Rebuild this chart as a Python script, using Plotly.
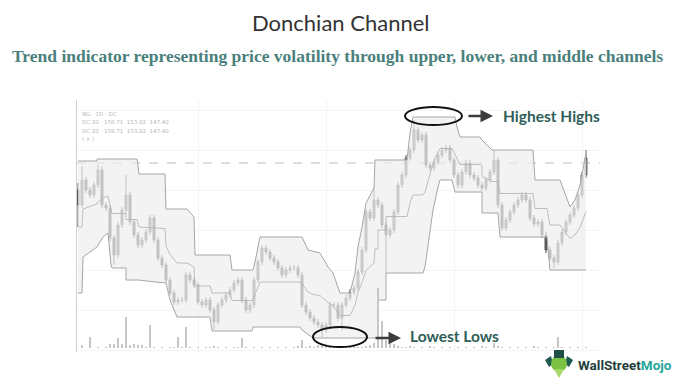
import plotly.graph_objects as go

# The page body has an 8px margin, so the figure is drawn 8px in from the
# window's top-left corner; sizes and pixel helpers account for it.
OFF = 8
W, H = 682 - OFF, 386 - OFF

# ---------------- data ----------------
bars = list(range(128))
close = [136.25, 142.5, 140, 138.75, 141.25, 145, 136.25, 135.5, 128, 123.75,
         131.25, 135, 138.75, 132, 128.75, 126.25, 127.5, 129.5, 133, 127.5,
         123, 121.25, 117.5, 114.25, 112, 112.5, 112.5, 118.75, 117.5, 116.25,
         112, 111.25, 112.5, 110, 107, 111.25, 112.5, 113.75, 115, 116.75,
         117.5, 112.5, 110, 111.25, 117.5, 122, 125.5, 124.5, 123, 122,
         120.5, 118.75, 120, 120.5, 120.5, 118.75, 111.25, 109.5, 108, 107,
         106.25, 105, 106.25, 111.25, 111.25, 108, 111.25, 113, 114.5, 115.5,
         119.5, 125, 134.5, 133, 137.5, 136.25, 131.25, 128.75, 130, 134.5,
         141.25, 143.75, 148, 150, 155, 152.5, 153.75, 146.25, 145.5, 147,
         148.75, 150, 150.5, 147.5, 143.75, 141.25, 144.5, 146.75, 143.75, 143,
         141.25, 140.5, 142.5, 144.5, 147.5, 136.25, 130.5, 132.5, 134.5, 136.25,
         137.5, 138.75, 137.5, 133, 131.5, 132, 128.75, 125, 123, 122,
         126.75, 129.5, 132, 133.75, 135.5, 138.75, 143.75, 148]
first_open = 140.0
high_override = {0: 141.75, 1: 146.0, 5: 146.25, 12: 143.75, 74: 140.5,
                 84: 157.5, 104: 150.0, 127: 150.0}
low_override = {0: 130.75, 9: 121.25, 34: 105.0, 61: 103.25, 66: 105.0,
                77: 119.25, 119: 120.5}
volume = [0, 3, 0, 11, 0, 1, 0, 1, 4, 4, 10, 4, 31, 3, 4, 3, 3, 1, 23, 1,
          0, 1, 0, 1, 1, 11, 1, 21, 1, 0, 1, 0, 1, 1, 2, 1, 0, 1, 0, 1,
          1, 10, 1, 0, 1, 0, 1, 0, 1, 0, 1, 0, 1, 0, 1, 2, 8, 1, 2, 1,
          3, 4, 2, 1, 2, 1, 2, 1, 1, 2, 1, 1, 2, 3, 5, 60, 27, 8, 6, 4,
          2, 1, 1, 2, 1, 0, 1, 0, 2, 1, 0, 1, 0, 1, 0, 1, 0, 1, 0, 1,
          0, 2, 1, 0, 5, 2, 1, 0, 1, 0, 1, 0, 1, 0, 2, 1, 0, 1, 0, 1,
          11, 1, 0, 1, 0, 1, 0, 1]

chan_x = [0, 1, 1.25, 3, 4.75, 4.75, 6.25, 7.5, 8.25, 8.5, 12, 12, 14.75, 15.25,
          19.25, 21.75, 22, 23, 24.75, 27.25, 29, 29.25, 33, 33.5, 38, 38.5,
          43.5, 43.75, 44.25, 45.5, 55.5, 56, 57.5, 58.75, 60.5, 62.5, 63.75,
          65.5, 68, 69.25, 70, 71, 72, 74, 74.25, 75, 75, 77, 77, 82.25, 83,
          83.75, 86.25, 86.75, 88, 88.75, 90, 90.5, 93.5, 94.25, 94.75, 95.5,
          100.5, 101, 101, 103.5, 105, 105.5, 113.75, 114.25, 117.25, 118,
          120.5, 123, 124.25, 125.5, 127]
chan_upper = [147.25, 147.25, 147.25, 147.25, 147.25, 147.75, 147.75, 147.75, 147.75,
              147.75, 147.75, 147.75, 147.75, 144, 144, 144, 135.25, 135.25, 135.25,
              135.25, 133.25, 123.75, 123.75, 123.75, 123.75, 120, 120, 120, 122,
              128.25, 128.25, 128.25, 125, 124.75, 124.25, 120.75, 119.25, 114.25,
              114.25, 119.25, 125.75, 130.75, 136.75, 140.5, 147.5, 147.5, 147.5,
              147.5, 147.5, 147.5, 154.25, 158.25, 158.25, 158.25, 158.25, 158.25,
              158.25, 158.25, 158.25, 158.25, 155.75, 153.25, 153.25, 152.5, 152.5,
              150, 150, 150, 150, 142.5, 142.5, 142.5, 142.5, 135.75, 137.5,
              141.25, 149.25]
chan_lower = [114.25, 114.25, 123.25, 124.5, 125.75, 125.75, 128.25, 129.25, 121.25,
              120.5, 120.5, 117.5, 117.5, 117.5, 117, 116.75, 116.75, 112.5, 108.25,
              108.25, 108.25, 108.25, 108.25, 104.75, 104.75, 104.75, 104.75, 105.75,
              105.75, 105.75, 105.75, 105, 104, 103, 103, 103, 103, 103, 103, 103,
              103, 103, 103, 103, 103, 103, 112.5, 112.5, 119.25, 119.25, 119.25,
              119.25, 119.25, 120.75, 129.25, 135, 140.75, 142.5, 142.5, 139.5,
              139.5, 139.5, 139.5, 139.5, 134.25, 134.25, 134.25, 128.25, 128.25,
              128.25, 128.25, 120, 120, 120, 120, 120, 120]
last_price = 146.75

# ---------------- derived candle fields ----------------
opens = [first_open] + close[:-1]
wick = 0.75
highs = [high_override.get(i, max(o, c) + wick) for i, (o, c) in enumerate(zip(opens, close))]
lows = [low_override.get(i, min(o, c) - wick) for i, (o, c) in enumerate(zip(opens, close))]
chan_mid = [(u + l) / 2 for u, l in zip(chan_upper, chan_lower)]

# window-pixel helpers for layout placement
def px(x):
    return (x - OFF) / W

def py(y):
    return 1 - (y - OFF) / H

X0, X1 = 77, 600
Y0, Y1 = 100, 352
x_range = [(X0 - 78) / 4, (X1 - 78) / 4]
y_range = [187.5 - Y1 / 4, 187.5 - Y0 / 4]

fig = go.Figure()

fig.add_trace(go.Bar(x=bars, y=volume, yaxis="y2", marker=dict(color="#c6c6c6", line=dict(width=0)),
                     width=0.4, hoverinfo="skip", showlegend=False))

fig.add_trace(go.Scatter(x=chan_x, y=chan_upper, mode="lines",
                         line=dict(color="#a6a6a6", width=1), hoverinfo="skip", showlegend=False))
fig.add_trace(go.Scatter(x=chan_x, y=chan_lower, mode="lines", fill="tonexty",
                         fillcolor="rgba(238,238,238,0.7)",
                         line=dict(color="#a6a6a6", width=1), hoverinfo="skip", showlegend=False))
fig.add_trace(go.Scatter(x=chan_x, y=chan_mid, mode="lines",
                         line=dict(color="#b0b0b0", width=0.8), hoverinfo="skip", showlegend=False))

fig.add_trace(go.Candlestick(
    x=bars, open=opens, high=highs, low=lows, close=close,
    increasing=dict(line=dict(color="#666666", width=1), fillcolor="#909090"),
    decreasing=dict(line=dict(color="#555555", width=1), fillcolor="#5e5e5e"),
    whiskerwidth=0, hoverinfo="skip", showlegend=False))

shapes = []
# last price dashed line
shapes.append(dict(type="line", xref="x", yref="y", x0=x_range[0], x1=x_range[1],
                   y0=last_price, y1=last_price, line=dict(color="#bdbdbd", width=1, dash="dash"),
                   layer="below"))
# ellipses
shapes.append(dict(type="circle", xref="paper", yref="paper",
                   x0=px(405), x1=px(462), y0=py(125), y1=py(107),
                   line=dict(color="#111111", width=2)))
shapes.append(dict(type="circle", xref="paper", yref="paper",
                   x0=px(313), x1=px(367), y0=py(347), y1=py(327),
                   line=dict(color="#111111", width=2)))
# logo icon (approximate)
shapes.append(dict(type="path", xref="paper", yref="paper",
                   path=f"M {px(545)},{py(360)} L {px(551)},{py(356)} L {px(553)},{py(364)} L {px(549)},{py(367)} Z",
                   fillcolor="#1f5b52", line=dict(width=0)))
shapes.append(dict(type="path", xref="paper", yref="paper",
                   path=f"M {px(573)},{py(360)} L {px(567)},{py(356)} L {px(565)},{py(364)} L {px(569)},{py(367)} Z",
                   fillcolor="#1f5b52", line=dict(width=0)))
shapes.append(dict(type="circle", xref="paper", yref="paper",
                   x0=px(551), x1=px(567), y0=py(372), y1=py(355),
                   fillcolor="#7cc242", line=dict(width=0)))
shapes.append(dict(type="path", xref="paper", yref="paper",
                   path=f"M {px(554)},{py(369)} L {px(564)},{py(369)} L {px(559)},{py(378)} Z",
                   fillcolor="#a6d86a", line=dict(width=0)))
shapes.append(dict(type="rect", xref="paper", yref="paper",
                   x0=px(554), x1=px(564), y0=py(358), y1=py(350),
                   fillcolor="#1f4d47", line=dict(width=0)))

annotations = []
annotations.append(dict(text="Donchian Channel", x=px(341), y=py(23), xref="paper", yref="paper",
                        showarrow=False, xanchor="center", yanchor="middle",
                        font=dict(family="Lato", size=22, color="#333333")))
annotations.append(dict(text="<b>Trend indicator representing price volatility through upper, lower, and middle channels</b>",
                        x=px(337), y=py(56), xref="paper", yref="paper", showarrow=False,
                        xanchor="center", yanchor="middle",
                        font=dict(family="Liberation Serif", size=17.5, color="#4a807c")))
annotations.append(dict(text="<b>Highest Highs</b>", x=px(501), y=py(116), xref="paper", yref="paper",
                        showarrow=False, xanchor="left", yanchor="middle",
                        font=dict(family="Lato", size=15.5, color="#2f5e59")))
annotations.append(dict(text="<b>Lowest Lows</b>", x=px(408), y=py(336), xref="paper", yref="paper",
                        showarrow=False, xanchor="left", yanchor="middle",
                        font=dict(family="Lato", size=15.5, color="#2f5e59")))
# arrows
for (xa, xb, yy) in [(467, 493, 116), (374, 401, 338)]:
    annotations.append(dict(text="", x=px(xb), y=py(yy), ax=-(xb - xa), ay=0,
                            xref="paper", yref="paper", axref="pixel", ayref="pixel",
                            showarrow=True, arrowhead=2, arrowsize=1.0, arrowwidth=2.5,
                            arrowcolor="#3c3c3c"))
# logo text
annotations.append(dict(text="<b><span style='color:#1e3f3b'>WallStreet</span><span style='color:#26a69a'>Mojo</span></b>",
                        x=px(576), y=py(365), xref="paper", yref="paper", showarrow=False,
                        xanchor="left", yanchor="middle",
                        font=dict(family="Roboto", size=13.5, color="#1e3f3b")))
# faint legend text in the top-left of the chart image
for txt, yy in [("NG · 1D · DC", 114), ("DC 20 · 158.71  153.82  147.40", 122),
                ("DC 20 · 158.71  153.82  147.40", 131), ("( ∧ )", 139)]:
    annotations.append(dict(text=txt, x=px(80), y=py(yy), xref="paper", yref="paper",
                            showarrow=False, xanchor="left", yanchor="middle",
                            font=dict(family="DejaVu Sans", size=5.5, color="#b8b8b8")))

fig.update_layout(
    width=W, height=H, margin=dict(l=0, r=0, t=0, b=0),
    paper_bgcolor="white", plot_bgcolor="white",
    shapes=shapes, annotations=annotations, bargap=0,
    xaxis=dict(domain=[px(X0), px(X1)], range=x_range, showticklabels=False, ticks="",
               showgrid=True, gridcolor="#f3f3f3", dtick=32, tick0=30, zeroline=False,
               rangeslider=dict(visible=False)),
    yaxis=dict(domain=[py(Y1), py(Y0)], range=y_range, showticklabels=False, ticks="",
               showgrid=True, gridcolor="#f4f4f4", dtick=10, zeroline=False,
               showline=True, linecolor="#d0d0d0", linewidth=1),
    yaxis2=dict(domain=[py(Y1), py(Y0)], range=[-4, 248], overlaying="y", visible=False),
)

fig.write_html("out.html")
